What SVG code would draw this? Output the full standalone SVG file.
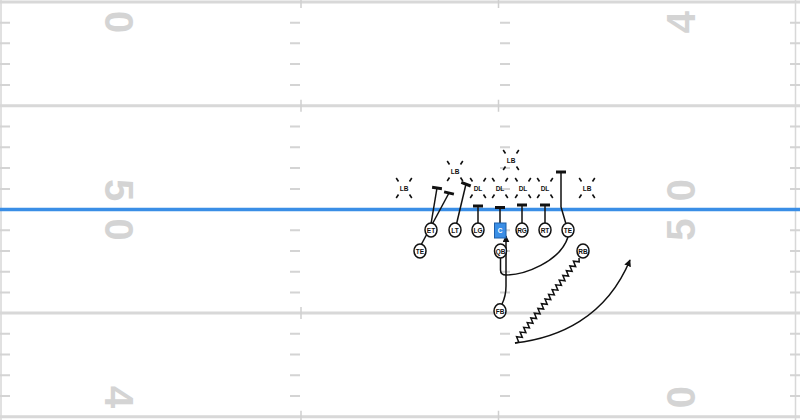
<svg xmlns="http://www.w3.org/2000/svg" xmlns:xlink="http://www.w3.org/1999/xlink" width="800" height="420" viewBox="0 0 800 420">
<style>
.yl{stroke:#d8d8d8;stroke-width:3;fill:none}
.side{stroke:#d8d8d8;stroke-width:1.5;fill:none}
.hash{stroke:#d4d4d4;stroke-width:2;fill:none}
.tick{stroke:#cfcfcf;stroke-width:1.5;fill:none}
.num{font-family:"Liberation Sans",Arial,sans-serif;font-weight:bold;font-size:40px;fill:#d4d4d4}
.ln{stroke:#111;stroke-width:1.5;fill:none}
.bar{stroke:#111;stroke-width:3;fill:none;stroke-linecap:butt}
.pl{fill:#fff;stroke:#111;stroke-width:1.5}
.lbl{font-family:"Liberation Sans",Arial,sans-serif;font-size:6.5px;font-weight:bold;fill:#111;text-anchor:middle;dominant-baseline:central}
.dm{stroke:#111;stroke-width:1.6;fill:none}
</style>
<defs>
<marker id="arr" viewBox="0 0 10 10" refX="9" refY="5" markerWidth="7" markerHeight="7" markerUnits="userSpaceOnUse" orient="auto"><path d="M0,0 L10,5 L0,10 z" fill="#111"/></marker>
<g id="dmark"><path class="dm" d="M-7.8,-10 L-5.5,-6.5 M7.8,-10 L5.5,-6.5 M-7.8,10 L-5.5,6.5 M7.8,10 L5.5,6.5"/></g>
</defs>
<rect width="800" height="420" fill="#fff"/>
<g id="field">
<path class="yl" d="M0,2 H800 M0,105.7 H800 M0,313 H800 M0,416.7 H800"/>
<path class="side" d="M1,0 V420 M795.5,0 V420"/>
<path class="tick" d="M301,0 V8 M498.5,0 V8 M301,99.7 V111.7 M498.5,99.7 V111.7 M301,307 V319 M498.5,307 V319 M301,410.7 V420 M498.5,410.7 V420"/>
<path class="hash" d="M0,22.7 h10 M0,43.3 h10 M0,64 h10 M0,85 h10 M0,126.5 h10 M0,147.3 h10 M0,168.1 h10 M0,188.9 h10 M0,230.2 h10 M0,251 h10 M0,271.8 h10 M0,292.5 h10 M0,333.7 h10 M0,354.5 h10 M0,375.2 h10 M0,396 h10"/>
<path class="hash" d="M290,22.7 h10 M290,43.3 h10 M290,64 h10 M290,85 h10 M290,126.5 h10 M290,147.3 h10 M290,168.1 h10 M290,188.9 h10 M290,230.2 h10 M290,251 h10 M290,271.8 h10 M290,292.5 h10 M290,333.7 h10 M290,354.5 h10 M290,375.2 h10 M290,396 h10"/>
<path class="hash" d="M500,22.7 h10 M500,43.3 h10 M500,64 h10 M500,85 h10 M500,126.5 h10 M500,147.3 h10 M500,168.1 h10 M500,188.9 h10 M500,230.2 h10 M500,251 h10 M500,271.8 h10 M500,292.5 h10 M500,333.7 h10 M500,354.5 h10 M500,375.2 h10 M500,396 h10"/>
<path class="hash" d="M790,22.7 h10 M790,43.3 h10 M790,64 h10 M790,85 h10 M790,126.5 h10 M790,147.3 h10 M790,168.1 h10 M790,188.9 h10 M790,230.2 h10 M790,251 h10 M790,271.8 h10 M790,292.5 h10 M790,333.7 h10 M790,354.5 h10 M790,375.2 h10 M790,396 h10"/>
<g class="num" text-anchor="middle" dominant-baseline="central">
<text transform="translate(119,22) rotate(90)">0</text>
<text transform="translate(119,190) rotate(90)">5</text>
<text transform="translate(119,229.5) rotate(90)">0</text>
<text transform="translate(119,397) rotate(90)">4</text>
<text transform="translate(681,22) rotate(-90)">4</text>
<text transform="translate(681,190) rotate(-90)">0</text>
<text transform="translate(681,229.5) rotate(-90)">5</text>
<text transform="translate(681,397) rotate(-90)">0</text>
</g>
<path d="M0,209.4 H800" stroke="#3a8ee6" stroke-width="3.5"/>
</g>
<g id="connectors">
<path class="ln" d="M431,224 L437,188"/>
<path class="bar" d="M432.1,187.3 L441.9,188.7"/>
<path class="ln" d="M421,245 L449,193"/>
<path class="bar" d="M444.1,191.9 L453.9,194.1"/>
<path class="ln" d="M456.5,224 L466,184"/>
<path class="bar" d="M461.3,182.3 L470.7,186"/>
<path class="ln" d="M478,224 V206"/>
<path class="bar" d="M473,206 H483"/>
<path class="ln" d="M500,223 V207.5"/>
<path class="bar" d="M495,207.5 H505"/>
<path class="ln" d="M522,224 V205"/>
<path class="bar" d="M517,205 H527"/>
<path class="ln" d="M545,224 V205"/>
<path class="bar" d="M540,205 H550"/>
<path class="ln" d="M566,224 L561,207 V172"/>
<path class="bar" d="M556,172 H566"/>
<path class="ln" d="M500.5,258 V270 Q500.5,275 506,275 C524,275 560,262 568,237"/>
<path class="ln" d="M502,304 Q506,296 506,286 V236" marker-end="url(#arr)"/>
<path class="ln" d="M579,258 L579.22,261.86 L573.45,261.22 L575.66,266.59 L569.89,265.94 L572.11,271.31 L566.34,270.66 L568.55,276.03 L562.78,275.38 L565,280.75 L559.23,280.1 L561.44,285.47 L555.67,284.83 L557.89,290.19 L552.11,289.55 L554.33,294.92 L548.56,294.27 L550.78,299.64 L545,298.99 L547.22,304.36 L541.45,303.71 L543.66,309.08 L537.89,308.43 L540.11,313.8 L534.34,313.16 L536.55,318.52 L530.78,317.88 L533,323.25 L527.22,322.6 L529.44,327.97 L523.67,327.32 L525.89,332.69 L520.11,332.04 L522.33,337.41 L516.56,336.76 L518.78,342.13 L515,343"/>
<path class="ln" d="M515,343 C558,338 606,318 630,260" marker-end="url(#arr)"/>
</g>
<g id="LB1"><use xlink:href="#dmark" x="404" y="188"/><text class="lbl" x="404" y="188">LB</text></g>
<g id="LB2"><use xlink:href="#dmark" x="455" y="171"/><text class="lbl" x="455" y="171">LB</text></g>
<g id="DL1"><use xlink:href="#dmark" x="478" y="188"/><text class="lbl" x="478" y="188">DL</text></g>
<g id="DL2"><use xlink:href="#dmark" x="500" y="188"/><text class="lbl" x="500" y="188">DL</text></g>
<g id="LB3"><use xlink:href="#dmark" x="511" y="160"/><text class="lbl" x="511" y="160">LB</text></g>
<g id="DL3"><use xlink:href="#dmark" x="523" y="188"/><text class="lbl" x="523" y="188">DL</text></g>
<g id="DL4"><use xlink:href="#dmark" x="545" y="188"/><text class="lbl" x="545" y="188">DL</text></g>
<g id="LB4"><use xlink:href="#dmark" x="587" y="188"/><text class="lbl" x="587" y="188">LB</text></g>
<g id="ET"><ellipse class="pl" cx="431" cy="230" rx="6" ry="7"/><text class="lbl" x="431" y="230">ET</text></g>
<g id="LT"><ellipse class="pl" cx="455" cy="230" rx="6" ry="7"/><text class="lbl" x="455" y="230">LT</text></g>
<g id="LG"><ellipse class="pl" cx="478" cy="230" rx="6" ry="7"/><text class="lbl" x="478" y="230">LG</text></g>
<g id="C"><rect x="494.5" y="223" width="11.5" height="15" fill="#3a8ee6" stroke="#1d5fa8" stroke-width="1"/><text class="lbl" x="500.2" y="230.5" style="fill:#fff">C</text></g>
<g id="RG"><ellipse class="pl" cx="522" cy="230" rx="6" ry="7"/><text class="lbl" x="522" y="230">RG</text></g>
<g id="RT"><ellipse class="pl" cx="545" cy="230" rx="6" ry="7"/><text class="lbl" x="545" y="230">RT</text></g>
<g id="TE"><ellipse class="pl" cx="568" cy="230" rx="6" ry="7"/><text class="lbl" x="568" y="230">TE</text></g>
<g id="TE2"><ellipse class="pl" cx="420" cy="251" rx="6" ry="7"/><text class="lbl" x="420" y="251">TE</text></g>
<g id="QB"><ellipse class="pl" cx="500.5" cy="251" rx="6" ry="7"/><text class="lbl" x="500.5" y="251">QB</text></g>
<g id="RB"><ellipse class="pl" cx="583" cy="251" rx="6" ry="7"/><text class="lbl" x="583" y="251">RB</text></g>
<g id="FB"><ellipse class="pl" cx="500" cy="311" rx="6" ry="7.2"/><text class="lbl" x="500" y="311">FB</text></g>
</svg>
